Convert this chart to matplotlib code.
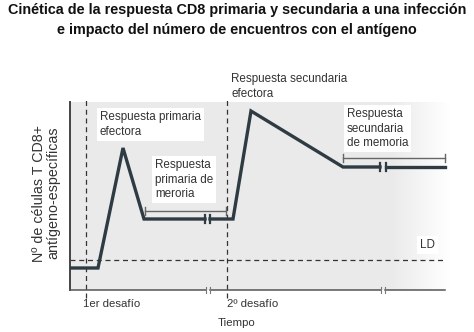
import numpy as np
import matplotlib.pyplot as plt

plt.rcParams['font.family'] = ['Liberation Sans', 'DejaVu Sans']

# schematic kinetics (time units, cell level units)
t_pts = [0, 28, 53, 74, 137, 163, 181, 273, 375]
level = [22, 22, 142, 71, 71, 71, 179, 123, 123]
gap1 = (135, 140)     # break in the primary memory plateau
gap2 = (310, 316)     # break in the secondary memory plateau
axis_gap = (136, 140)
axis_gap2 = (311, 315)

challenge_1 = 16
challenge_2 = 157
ld_level = 30

bracket_1 = (75, 156, 79)
bracket_2 = (273, 375, 132)

title = ('Cinética de la respuesta CD8 primaria y secundaria a una infección\n'
         'e impacto del número de encuentros con el antígeno')

line_col = '#2f3b42'
txt_col = '#333333'

fig = plt.figure(figsize=(4.74, 3.32), dpi=100)
ax = fig.add_axes([70 / 474, 42 / 332, 380 / 474, 188 / 332])
ax.set_xlim(0, 380)
ax.set_ylim(0, 188)

# light gray panel fading to white on the right
grad = np.linspace(0, 1, 256)
shade = 0.92 + (1 - 0.92) * np.clip((grad - 0.85) / 0.15, 0, 1)
bg = np.ones((1, 256, 3)) * shade[None, :, None]
ax.imshow(bg, extent=[0, 380, 0, 188], aspect='auto', zorder=0)

for s in ['top', 'right', 'bottom']:
    ax.spines[s].set_visible(False)
ax.spines['left'].set_color('#444444')
ax.spines['left'].set_linewidth(1.4)
ax.set_xticks([])
ax.set_yticks([])

# bottom axis with breaks
axis_parts = [(0, axis_gap[0]), (axis_gap[1], axis_gap2[0]), (axis_gap2[1], 375)]
for x0, x1 in axis_parts:
    ax.plot([x0, x1], [0, 0], color='#555555', lw=1.1, clip_on=False, zorder=3)
for xg in axis_gap + axis_gap2:
    ax.plot([xg, xg], [-3, 3], color='#777777', lw=0.8, clip_on=False, zorder=3)

# challenge markers and detection limit
for xc in (challenge_1, challenge_2):
    ax.plot([xc, xc], [-8, 191], color=txt_col, lw=0.9, ls=(0, (4, 3)),
            clip_on=False, zorder=2)
ax.plot([0, 375], [ld_level, ld_level], color=txt_col, lw=0.9, ls=(0, (4, 3)), zorder=2)


def split_at(x, y, gap):
    x = np.asarray(x, float)
    y = np.asarray(y, float)
    yg = np.interp(gap, x, y)
    left = x < gap[0]
    right = x > gap[1]
    xa = np.r_[x[left], gap[0]]
    ya = np.r_[y[left], yg[0]]
    xb = np.r_[gap[1], x[right]]
    yb = np.r_[yg[1], y[right]]
    return (xa, ya), (xb, yb), yg


(xa, ya), (xb, yb), yg1 = split_at(t_pts, level, gap1)
(xb1, yb1), (xc, yc), yg2 = split_at(xb, yb, gap2)
for xs, ys in ((xa, ya), (xb1, yb1), (xc, yc)):
    ax.plot(xs, ys, color=line_col, lw=2.4, solid_joinstyle='miter', zorder=4)
for xg, yv in zip(gap1 + gap2, list(yg1) + list(yg2)):
    ax.plot([xg, xg], [yv - 4, yv + 4], color=line_col, lw=1.6, zorder=4)

# memory brackets
for x0, x1, yb_ in (bracket_1, bracket_2):
    ax.plot([x0, x1], [yb_, yb_], color='#666666', lw=1.0, zorder=3)
    for xe in (x0, x1):
        ax.plot([xe, xe], [yb_ - 4, yb_ + 4], color='#666666', lw=1.0, zorder=3)

box = dict(facecolor='white', edgecolor='none', pad=2)
fs = 8.4
ax.text(30, 179, 'Respuesta primaria\nefectora', fontsize=fs, color=txt_col,
        va='top', ha='left', bbox=box, linespacing=1.3, zorder=5)
ax.text(85, 131, 'Respuesta\nprimaria de\nmeroria', fontsize=fs, color=txt_col,
        va='top', ha='left', bbox=box, linespacing=1.3, zorder=5)
ax.text(161, 217, 'Respuesta secundaria\nefectora', fontsize=fs, color=txt_col,
        va='top', ha='left', linespacing=1.3, clip_on=False, zorder=5)
ax.text(277, 182, 'Respuesta\nsecundaria\nde memoria', fontsize=fs, color=txt_col,
        va='top', ha='left', bbox=box, linespacing=1.3, zorder=5)
ax.text(350, 45, 'LD', fontsize=fs, color=txt_col, va='center', ha='left',
        bbox=box, zorder=5)

xfs = 8.2
ax.text(challenge_1 - 3, -9, '1er desafío', fontsize=xfs, color=txt_col,
        va='top', ha='left', clip_on=False)
ax.text(challenge_2, -9, '2º desafío', fontsize=xfs, color=txt_col,
        va='top', ha='left', clip_on=False)
ax.text(167, -28, 'Tiempo', fontsize=xfs, color=txt_col, va='top', ha='center',
        clip_on=False)
ax.text(-24, 97, 'Nº de células T CD8+\nantígeno-específicas', fontsize=10.3,
        color=txt_col, rotation=90, va='center', ha='center', linespacing=1.05,
        clip_on=False)

fig.text(0.5, 0.99, title, fontsize=10.4, fontweight='bold', color='#111111',
         ha='center', va='top', linespacing=1.5)

fig.savefig('out.png', dpi=100)
